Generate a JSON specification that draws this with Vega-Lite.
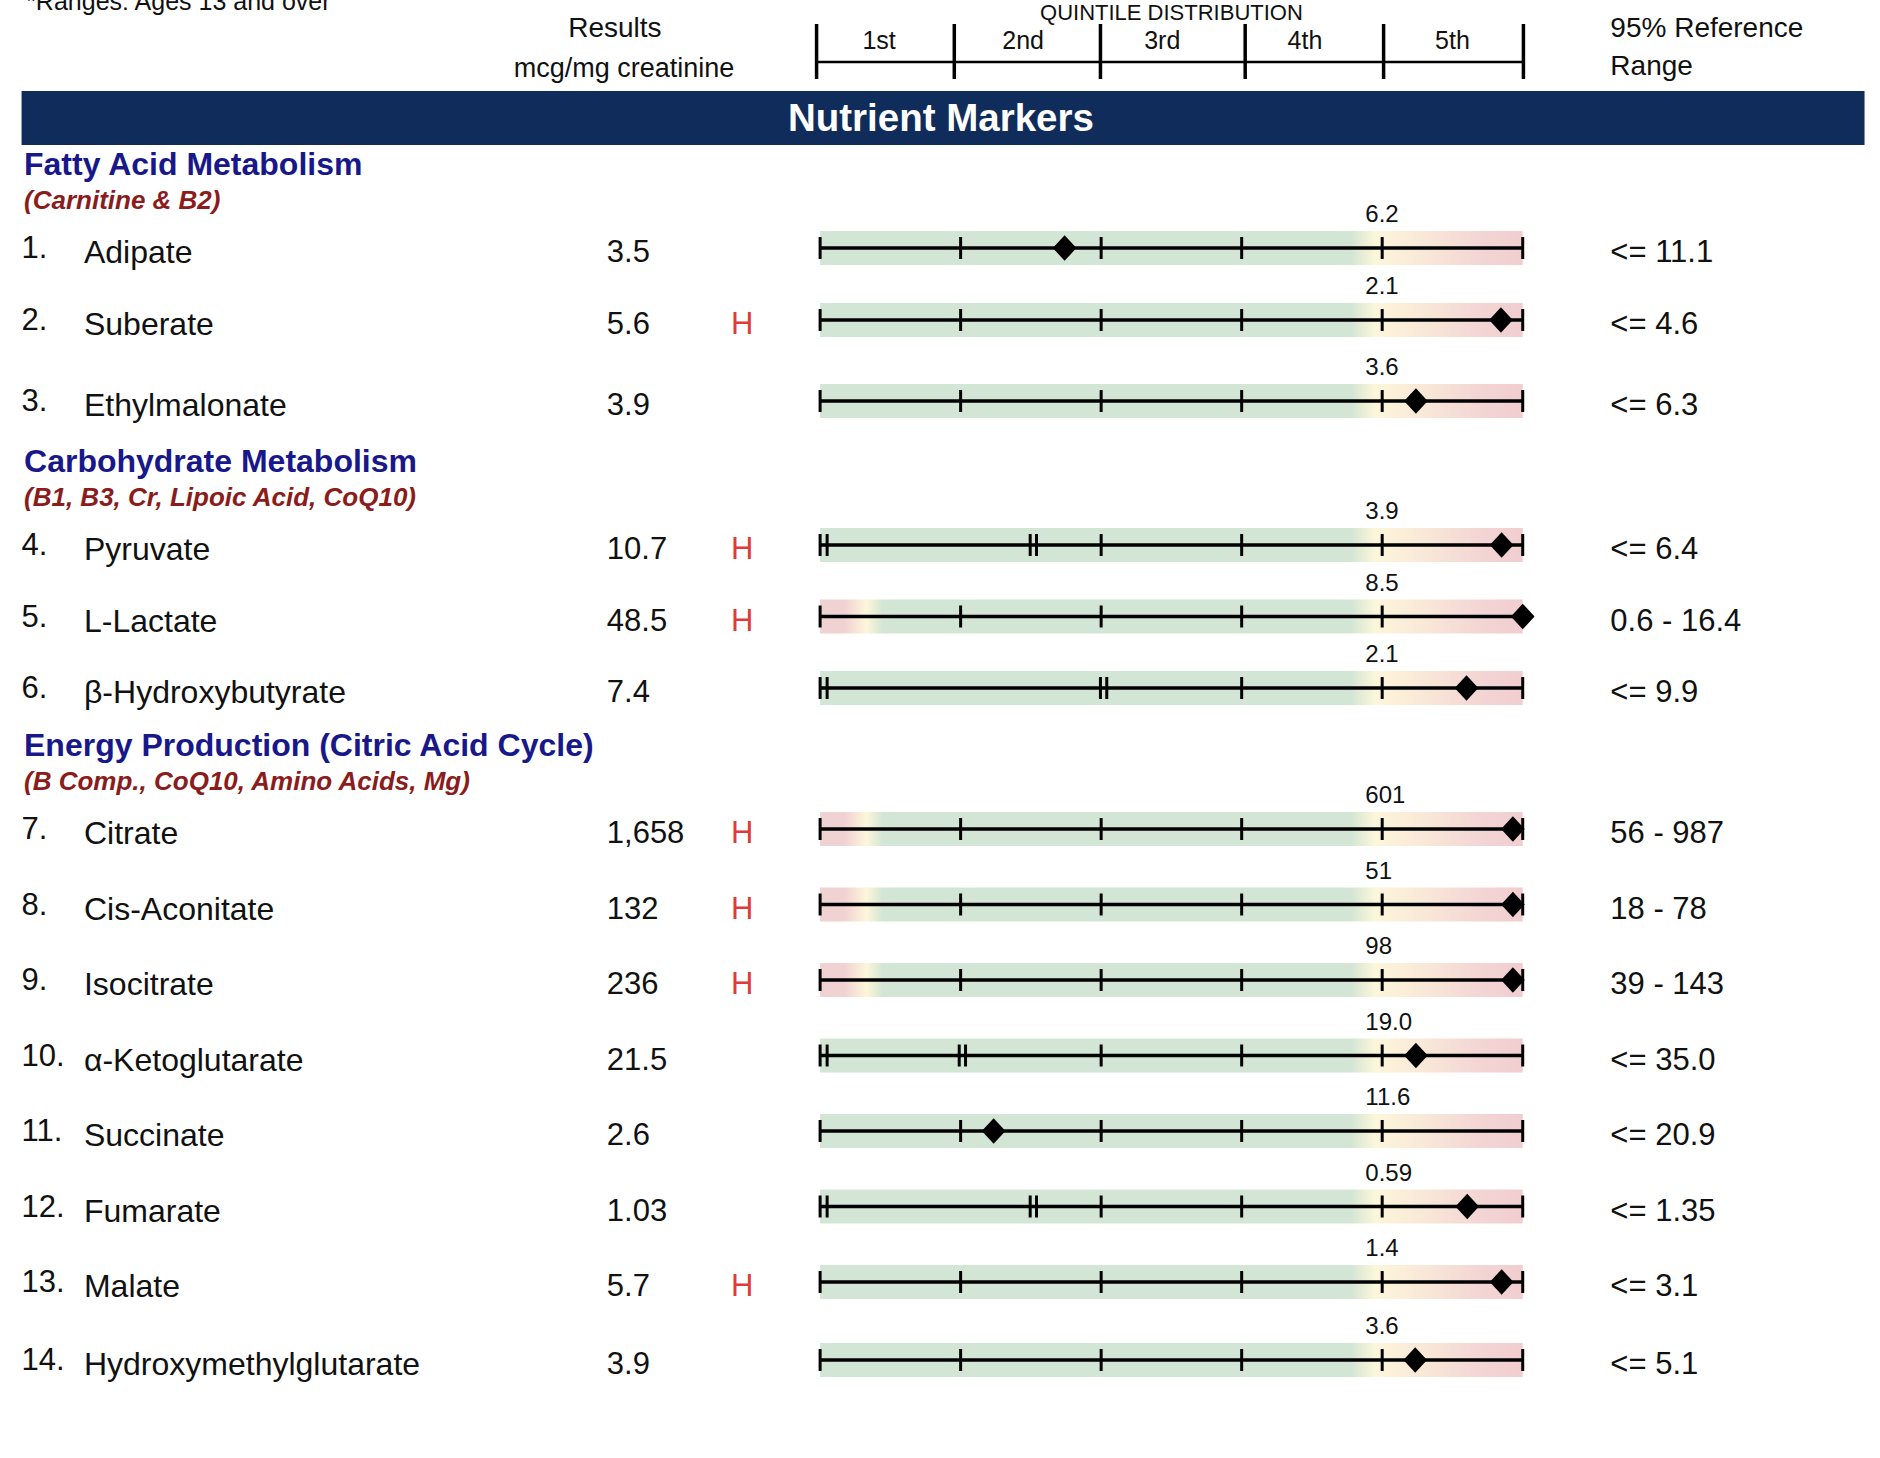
{
  "$schema": "https://vega.github.io/schema/vega-lite/v6.json",
  "width": 1880,
  "height": 1458,
  "autosize": {"type": "none"},
  "padding": 0,
  "background": "white",
  "config": {
    "view": {"stroke": null},
    "axis": {"disable": true},
    "text": {"font": "Liberation Sans", "color": "#111111"}
  },
  "datasets": {
    "markers": [
      {"n": 1, "num": "1.", "name": "Adipate", "result": "3.5", "flag": "", "pct": 34.8, "q80": "6.2", "range": "<= 11.1", "limit": "upper", "ticks": [0, 20, 40, 60, 80, 100]},
      {"n": 2, "num": "2.", "name": "Suberate", "result": "5.6", "flag": "H", "pct": 96.9, "q80": "2.1", "range": "<= 4.6", "limit": "upper", "ticks": [0, 20, 40, 60, 80, 100]},
      {"n": 3, "num": "3.", "name": "Ethylmalonate", "result": "3.9", "flag": "", "pct": 84.8, "q80": "3.6", "range": "<= 6.3", "limit": "upper", "ticks": [0, 20, 40, 60, 80, 100]},
      {"n": 4, "num": "4.", "name": "Pyruvate", "result": "10.7", "flag": "H", "pct": 97.0, "q80": "3.9", "range": "<= 6.4", "limit": "upper", "ticks": [0, 1, 29.9, 30.8, 40, 60, 80, 100]},
      {"n": 5, "num": "5.", "name": "L-Lactate", "result": "48.5", "flag": "H", "pct": 100, "q80": "8.5", "range": "0.6 - 16.4", "limit": "both", "ticks": [0, 20, 40, 60, 80, 100]},
      {"n": 6, "num": "6.", "name": "β-Hydroxybutyrate", "result": "7.4", "flag": "", "pct": 92.0, "q80": "2.1", "range": "<= 9.9", "limit": "upper", "ticks": [0, 1, 39.9, 40.8, 60, 80, 100]},
      {"n": 7, "num": "7.", "name": "Citrate", "result": "1,658", "flag": "H", "pct": 98.6, "q80": "601", "range": "56 - 987", "limit": "both", "ticks": [0, 20, 40, 60, 80, 100]},
      {"n": 8, "num": "8.", "name": "Cis-Aconitate", "result": "132", "flag": "H", "pct": 98.6, "q80": "51", "range": "18 - 78", "limit": "both", "ticks": [0, 20, 40, 60, 80, 100]},
      {"n": 9, "num": "9.", "name": "Isocitrate", "result": "236", "flag": "H", "pct": 98.6, "q80": "98", "range": "39 - 143", "limit": "both", "ticks": [0, 20, 40, 60, 80, 100]},
      {"n": 10, "num": "10.", "name": "α-Ketoglutarate", "result": "21.5", "flag": "", "pct": 84.8, "q80": "19.0", "range": "<= 35.0", "limit": "upper", "ticks": [0, 1, 19.8, 20.7, 40, 60, 80, 100]},
      {"n": 11, "num": "11.", "name": "Succinate", "result": "2.6", "flag": "", "pct": 24.7, "q80": "11.6", "range": "<= 20.9", "limit": "upper", "ticks": [0, 20, 40, 60, 80, 100]},
      {"n": 12, "num": "12.", "name": "Fumarate", "result": "1.03", "flag": "", "pct": 92.1, "q80": "0.59", "range": "<= 1.35", "limit": "upper", "ticks": [0, 1, 29.9, 30.8, 40, 60, 80, 100]},
      {"n": 13, "num": "13.", "name": "Malate", "result": "5.7", "flag": "H", "pct": 97.0, "q80": "1.4", "range": "<= 3.1", "limit": "upper", "ticks": [0, 20, 40, 60, 80, 100]},
      {"n": 14, "num": "14.", "name": "Hydroxymethylglutarate", "result": "3.9", "flag": "", "pct": 84.7, "q80": "3.6", "range": "<= 5.1", "limit": "upper", "ticks": [0, 20, 40, 60, 80, 100]}
    ],
    "sections": [
      {"first": 1, "title": "Fatty Acid Metabolism", "sub": "(Carnitine & B2)"},
      {"first": 4, "title": "Carbohydrate Metabolism", "sub": "(B1, B3, Cr, Lipoic Acid, CoQ10)"},
      {"first": 7, "title": "Energy Production (Citric Acid Cycle)", "sub": "(B Comp., CoQ10, Amino Acids, Mg)"}
    ],
    "quintiles": [
      {"q": "1st", "mid": 8.4},
      {"q": "2nd", "mid": 28.9},
      {"q": "3rd", "mid": 48.7},
      {"q": "4th", "mid": 69.0},
      {"q": "5th", "mid": 90}
    ],
    "bounds": [{"b": -0.5}, {"b": 19.1}, {"b": 39.9}, {"b": 60.5}, {"b": 80.2}, {"b": 100.1}]
  },
  "layer": [
    {
      "data": {"values": [{}]},
      "mark": {"type": "rect", "fill": "#0f2c5a"},
      "encoding": {
        "x": {"datum": -113.65, "type": "quantitative", "scale": {"domain": [-116.72, 150.85], "nice": false, "zero": false}},
        "x2": {"datum": 148.65},
        "y": {"datum": -1.052, "type": "quantitative", "scale": {"domain": [-3, 1, 2, 3, 4, 6, 7, 13, 14, 15], "range": [-58, 248, 320, 401, 545, 688, 829, 1282, 1360, 1435], "nice": false, "zero": false}},
        "y2": {"datum": -0.346}
      }
    },
    {
      "data": {"values": [{}]},
      "mark": {"type": "text", "text": "Nutrient Markers", "fontSize": 38.5, "fontWeight": "bold", "color": "white", "align": "center", "baseline": "middle"},
      "encoding": {"x": {"datum": 17.2, "type": "quantitative"}, "y": {"datum": -0.68, "type": "quantitative"}}
    },
    {
      "data": {"values": [{}]},
      "mark": {"type": "text", "text": "*Ranges: Ages 13 and over", "fontSize": 25, "align": "left", "baseline": "alphabetic"},
      "encoding": {"x": {"datum": -113.0, "type": "quantitative"}, "y": {"datum": -2.105, "type": "quantitative"}}
    },
    {
      "data": {"values": [{}]},
      "mark": {"type": "text", "text": "Results", "fontSize": 28, "align": "center", "baseline": "middle"},
      "encoding": {"x": {"datum": -29.2, "type": "quantitative"}, "y": {"datum": -1.868, "type": "quantitative"}}
    },
    {
      "data": {"values": [{}]},
      "mark": {"type": "text", "text": "mcg/mg creatinine", "fontSize": 27, "align": "center", "baseline": "middle"},
      "encoding": {"x": {"datum": -27.9, "type": "quantitative"}, "y": {"datum": -1.337, "type": "quantitative"}}
    },
    {
      "data": {"values": [{}]},
      "mark": {"type": "text", "text": "QUINTILE DISTRIBUTION", "fontSize": 22, "align": "center", "baseline": "middle"},
      "encoding": {"x": {"datum": 50, "type": "quantitative"}, "y": {"datum": -2.07, "type": "quantitative"}}
    },
    {
      "data": {"values": [{}]},
      "mark": {"type": "text", "text": "95% Reference", "fontSize": 28, "align": "left", "baseline": "middle"},
      "encoding": {"x": {"datum": 112.47, "type": "quantitative"}, "y": {"datum": -1.868, "type": "quantitative"}}
    },
    {
      "data": {"values": [{}]},
      "mark": {"type": "text", "text": "Range", "fontSize": 28, "align": "left", "baseline": "middle"},
      "encoding": {"x": {"datum": 112.47, "type": "quantitative"}, "y": {"datum": -1.37, "type": "quantitative"}}
    },
    {
      "data": {"values": [{}]},
      "mark": {"type": "rule", "color": "#000000", "strokeWidth": 2.5},
      "encoding": {"x": {"datum": -0.5, "type": "quantitative"}, "x2": {"datum": 100.1}, "y": {"datum": -1.43, "type": "quantitative"}}
    },
    {
      "data": {"name": "bounds"},
      "mark": {"type": "rule", "color": "#000000", "strokeWidth": 3.5},
      "encoding": {"x": {"field": "b", "type": "quantitative"}, "y": {"datum": -1.928, "type": "quantitative"}, "y2": {"datum": -1.209}}
    },
    {
      "data": {"name": "quintiles"},
      "mark": {"type": "text", "fontSize": 25, "align": "center", "baseline": "middle"},
      "encoding": {"x": {"field": "mid", "type": "quantitative"}, "y": {"datum": -1.70, "type": "quantitative"}, "text": {"field": "q"}}
    },
    {
      "data": {"name": "sections"},
      "mark": {"type": "text", "fontSize": 32, "fontWeight": "bold", "color": "#18188a", "align": "left", "baseline": "middle", "dy": -83},
      "encoding": {"x": {"datum": -113.3, "type": "quantitative"}, "y": {"field": "first", "type": "quantitative"}, "text": {"field": "title"}}
    },
    {
      "data": {"name": "sections"},
      "mark": {"type": "text", "fontSize": 26, "fontWeight": "bold", "fontStyle": "italic", "color": "#8a1c1c", "align": "left", "baseline": "middle", "dy": -47},
      "encoding": {"x": {"datum": -113.3, "type": "quantitative"}, "y": {"field": "first", "type": "quantitative"}, "text": {"field": "sub"}}
    },
    {
      "data": {"name": "markers"},
      "transform": [{"filter": "datum.limit === 'upper'"}],
      "mark": {"type": "rect", "yOffset": -17, "y2Offset": 17, "fill": {"gradient": "linear", "x1": 0, "y1": 0, "x2": 1, "y2": 0, "stops": [
        {"offset": 0, "color": "#d3e5d4"}, {"offset": 0.755, "color": "#d3e5d4"}, {"offset": 0.79, "color": "#fcf6da"}, {"offset": 0.86, "color": "#f9e8d8"}, {"offset": 0.94, "color": "#f3d5d4"}, {"offset": 1, "color": "#f1cdd0"}]}},
      "encoding": {"x": {"datum": 0, "type": "quantitative"}, "x2": {"datum": 100}, "y": {"field": "n", "type": "quantitative"}, "y2": {"field": "n"}}
    },
    {
      "data": {"name": "markers"},
      "transform": [{"filter": "datum.limit === 'both'"}],
      "mark": {"type": "rect", "yOffset": -17, "y2Offset": 17, "fill": {"gradient": "linear", "x1": 0, "y1": 0, "x2": 1, "y2": 0, "stops": [
        {"offset": 0, "color": "#f1d2d3"}, {"offset": 0.035, "color": "#f1d2d3"}, {"offset": 0.066, "color": "#fcf6da"}, {"offset": 0.09, "color": "#d3e5d4"}, {"offset": 0.755, "color": "#d3e5d4"}, {"offset": 0.79, "color": "#fcf6da"}, {"offset": 0.86, "color": "#f9e8d8"}, {"offset": 0.94, "color": "#f3d5d4"}, {"offset": 1, "color": "#f1cdd0"}]}},
      "encoding": {"x": {"datum": 0, "type": "quantitative"}, "x2": {"datum": 100}, "y": {"field": "n", "type": "quantitative"}, "y2": {"field": "n"}}
    },
    {
      "data": {"name": "markers"},
      "mark": {"type": "rule", "color": "#000000", "strokeWidth": 3.5},
      "encoding": {"x": {"datum": 0, "type": "quantitative"}, "x2": {"datum": 100}, "y": {"field": "n", "type": "quantitative"}}
    },
    {
      "data": {"name": "markers"},
      "transform": [{"flatten": ["ticks"]}],
      "mark": {"type": "rule", "color": "#000000", "strokeWidth": 3, "yOffset": -11, "y2Offset": 11},
      "encoding": {"x": {"field": "ticks", "type": "quantitative"}, "y": {"field": "n", "type": "quantitative"}, "y2": {"field": "n"}}
    },
    {
      "data": {"name": "markers"},
      "mark": {"type": "point", "shape": "M0,-1L0.92,0L0,1L-0.92,0Z", "filled": true, "color": "#000000", "opacity": 1, "size": 660},
      "encoding": {"x": {"field": "pct", "type": "quantitative"}, "y": {"field": "n", "type": "quantitative"}}
    },
    {
      "data": {"name": "markers"},
      "mark": {"type": "text", "fontSize": 24, "align": "left", "baseline": "middle", "dy": -33},
      "encoding": {"x": {"datum": 77.6, "type": "quantitative"}, "y": {"field": "n", "type": "quantitative"}, "text": {"field": "q80"}}
    },
    {
      "data": {"name": "markers"},
      "mark": {"type": "text", "fontSize": 31, "align": "left", "baseline": "middle", "dy": 1},
      "encoding": {"x": {"datum": -113.65, "type": "quantitative"}, "y": {"field": "n", "type": "quantitative"}, "text": {"field": "num"}}
    },
    {
      "data": {"name": "markers"},
      "mark": {"type": "text", "fontSize": 32, "align": "left", "baseline": "middle", "dy": 5},
      "encoding": {"x": {"datum": -104.77, "type": "quantitative"}, "y": {"field": "n", "type": "quantitative"}, "text": {"field": "name"}}
    },
    {
      "data": {"name": "markers"},
      "mark": {"type": "text", "fontSize": 31, "align": "left", "baseline": "middle", "dy": 5},
      "encoding": {"x": {"datum": -30.36, "type": "quantitative"}, "y": {"field": "n", "type": "quantitative"}, "text": {"field": "result"}}
    },
    {
      "data": {"name": "markers"},
      "mark": {"type": "text", "fontSize": 31, "align": "left", "baseline": "middle", "dy": 5, "color": "#e03a3a"},
      "encoding": {"x": {"datum": -12.68, "type": "quantitative"}, "y": {"field": "n", "type": "quantitative"}, "text": {"field": "flag"}}
    },
    {
      "data": {"name": "markers"},
      "mark": {"type": "text", "fontSize": 31, "align": "left", "baseline": "middle", "dy": 5},
      "encoding": {"x": {"datum": 112.47, "type": "quantitative"}, "y": {"field": "n", "type": "quantitative"}, "text": {"field": "range"}}
    }
  ]
}
